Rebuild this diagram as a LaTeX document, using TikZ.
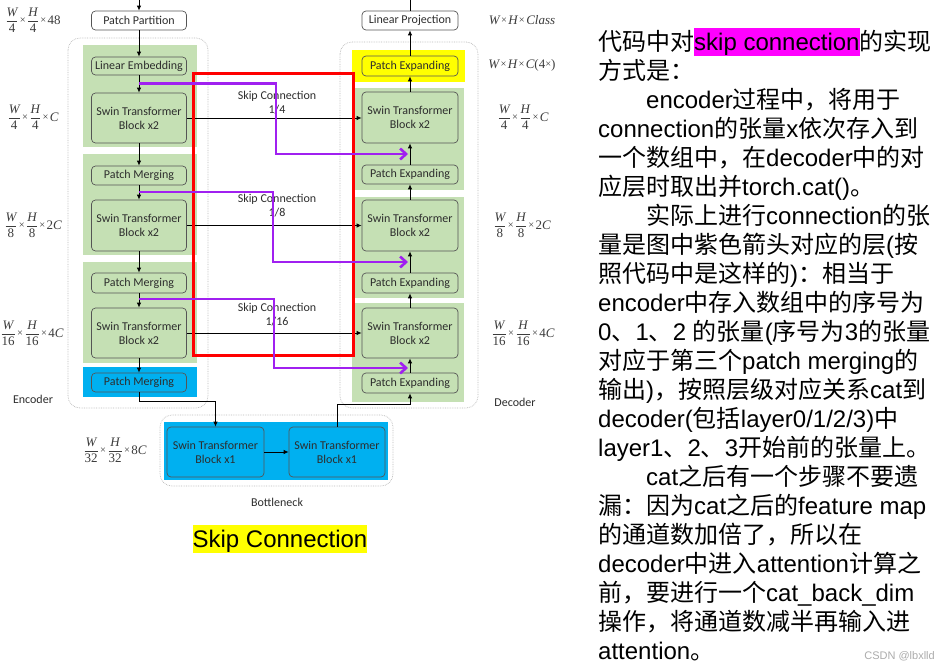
\documentclass[tikz,border=0pt]{standalone}
\usepackage{amsmath}
\usepackage{fontspec}
\setmainfont{Liberation Sans}
\newfontfamily\zhfont{Noto Sans CJK SC}
\newfontfamily\calfont{Carlito}
\newfontfamily\tnr{Liberation Serif}
\usetikzlibrary{arrows.meta}
\definecolor{pgreen}{RGB}{197,224,180}
\definecolor{pblue}{RGB}{0,176,240}
\definecolor{pyellow}{RGB}{255,255,0}
\definecolor{ppurple}{RGB}{160,32,240}
\definecolor{pmag}{RGB}{255,0,255}
\definecolor{pred}{RGB}{255,0,0}
\definecolor{bordergray}{RGB}{85,85,85}
\definecolor{txtgray}{RGB}{45,45,45}
\definecolor{mathgray}{RGB}{60,60,60}
\newcommand\zh[1]{{\zhfont #1}}
\newcommand\hlt[2]{{\setlength\fboxsep{0pt}\colorbox{#1}{\rule[-0.23em]{0pt}{1.16em}#2}}}
\newcommand\fr[2]{\dfrac{\mbox{\tnr\itshape #1}}{\mbox{\tnr #2}}}
\newcommand\vi[1]{\mbox{\tnr\itshape #1}}
\newcommand\vn[1]{\mbox{\tnr #1}}
\newcommand\smx{\mbox{\raisebox{0.6pt}{\tnr\fontsize{10.5}{10.5}\selectfont ×}}}
\newcommand\tm{\mskip2mu\smx\mskip2mu}
\begin{document}
\begin{tikzpicture}[x=1pt,y=-1pt,
  blk/.style={rounded corners=4pt, draw=bordergray, line width=0.7pt,
    minimum width=95pt, inner sep=0pt, align=center,
    font=\calfont\fontsize{12}{14}\selectfont, text=txtgray},
  dbox/.style={draw=gray!55, densely dotted, line width=0.7pt, rounded corners=12pt},
  arr/.style={-{Latex[length=5pt,width=4.5pt]}, line width=0.9pt, black},
  plain/.style={line width=0.9pt, black},
  parr/.style={ppurple, line width=2.6pt, -{Straight Barb[length=6pt,width=11pt]}},
  dimlab/.style={font=\fontsize{13}{15}\selectfont, text=mathgray, inner sep=0pt},
  seclab/.style={font=\calfont\fontsize{12}{14}\selectfont, text=txtgray, inner sep=0pt},
  sklab/.style={font=\calfont\fontsize{12}{14}\selectfont, text=txtgray, inner sep=0pt, align=center},
  rt/.style={anchor=base west, inner sep=0pt, font=\fontsize{24}{29}\selectfont, text=black}]
\useasboundingbox (0,0) rectangle (950,670);
\fill[white] (0,0) rectangle (950,670);

% panels
\fill[pgreen] (83,45) rectangle (197,147);
\fill[pgreen] (83,154) rectangle (197,255);
\fill[pgreen] (83,262) rectangle (197,363);
\fill[pblue] (83,367) rectangle (197,397);
\fill[pyellow] (352,50) rectangle (465,82);
\fill[pgreen] (352,88) rectangle (464,190);
\fill[pgreen] (352,197) rectangle (464,298);
\fill[pgreen] (352,303) rectangle (464,402);
\fill[pblue] (164,422) rectangle (388,480);

% dashed group boxes
\draw[dbox] (68,38) rectangle (208,408);
\draw[dbox] (340,42) rectangle (478,408);
\draw[dbox] (160,415) rectangle (393,486);

% encoder nodes
\node[blk, fill=white, minimum height=19pt] (pp) at (139,20.5) {Patch Partition};
\node[blk, fill=pgreen, minimum height=18pt] (le) at (139,66) {Linear Embedding};
\node[blk, fill=pgreen, minimum height=50pt] (e1) at (139,118) {Swin Transformer\\Block x2};
\node[blk, fill=pgreen, minimum height=19pt] (pm1) at (139,175.5) {Patch Merging};
\node[blk, fill=pgreen, minimum height=51pt] (e2) at (139,225.5) {Swin Transformer\\Block x2};
\node[blk, fill=pgreen, minimum height=20pt] (pm2) at (139,283) {Patch Merging};
\node[blk, fill=pgreen, minimum height=50pt] (e3) at (139,333) {Swin Transformer\\Block x2};
\node[blk, fill=pblue, minimum height=19pt] (pm3) at (139,382.5) {Patch Merging};

% decoder nodes
\node[blk, fill=white, minimum height=19pt, minimum width=96pt] (lp) at (410,20.5) {Linear Projection};
\node[blk, fill=pyellow, minimum height=20pt, minimum width=96pt] (pe0) at (410,66) {Patch Expanding};
\node[blk, fill=pgreen, minimum height=51pt, minimum width=96pt] (d1) at (410,117.5) {Swin Transformer\\Block x2};
\node[blk, fill=pgreen, minimum height=19pt, minimum width=96pt] (pe1) at (410,174.5) {Patch Expanding};
\node[blk, fill=pgreen, minimum height=51pt, minimum width=96pt] (d2) at (410,225.5) {Swin Transformer\\Block x2};
\node[blk, fill=pgreen, minimum height=20pt, minimum width=96pt] (pe2) at (410,283) {Patch Expanding};
\node[blk, fill=pgreen, minimum height=50pt, minimum width=96pt] (d3) at (410,333) {Swin Transformer\\Block x2};
\node[blk, fill=pgreen, minimum height=20pt, minimum width=96pt] (pe3) at (410,383) {Patch Expanding};

% bottleneck nodes
\node[blk, fill=pblue, minimum height=50pt, minimum width=97pt] (b1) at (215.5,452) {Swin Transformer\\Block x1};
\node[blk, fill=pblue, minimum height=50pt, minimum width=96pt] (b2) at (337,452) {Swin Transformer\\Block x1};

% encoder arrows
\coordinate (top1) at (139,0);
\coordinate (top2) at (410,0);
\draw[arr] (top1) -- (pp.north);
\draw[arr] (pp.south) -- (le.north);
\draw[arr] (le.south) -- (e1.north);
\draw[arr] (e1.south) -- (pm1.north);
\draw[arr] (pm1.south) -- (e2.north);
\draw[arr] (e2.south) -- (pm2.north);
\draw[arr] (pm2.south) -- (e3.north);
\draw[arr] (e3.south) -- (pm3.north);
\draw[arr] (pm3.south) -- ++(0,9) -| (b1.north);
\draw[arr] (b1.east) -- (b2.west);
\draw[arr] (b2.north) -- ++(0,-22) -| (pe3.south);
% decoder arrows
\draw[arr] (pe3.north) -- (d3.south);
\draw[arr] (d3.north) -- (pe2.south);
\draw[arr] (pe2.north) -- (d2.south);
\draw[arr] (d2.north) -- (pe1.south);
\draw[arr] (pe1.north) -- (d1.south);
\draw[arr] (d1.north) -- (pe0.south);
\draw[arr] (pe0.north) -- (lp.south);
\draw[plain] (lp.north) -- (top2);

% skip connections
\draw[arr] (e1.east) -- (e1.east -| d1.west);
\draw[arr] (e2.east) -- (e2.east -| d2.west);
\draw[arr] (e3.east) -- (e3.east -| d3.west);
\node[sklab] (s1) at (277,103) {Skip Connection\\1/4};
\node[sklab] (s2) at (277,206) {Skip Connection\\1/8};
\node[sklab] (s3) at (277,314.5) {Skip Connection\\1/16};

% section labels
\node[seclab] (encl) at (33,399) {Encoder};
\node[seclab] (decl) at (515,402) {Decoder};
\node[seclab] (botl) at (277,502) {Bottleneck};

% dimension labels
\node[dimlab] (dl1) at (33,20) {$\fr{W}{4}\tm\fr{H}{4}\tm\vn{48}$};
\node[dimlab] (dl2) at (33,117) {$\fr{W}{4}\tm\fr{H}{4}\tm\vi{C}$};
\node[dimlab] (dl3) at (33,225) {$\fr{W}{8}\tm\fr{H}{8}\tm\vn{2}\vi{C}$};
\node[dimlab] (dl4) at (32,333) {$\fr{W}{16}\tm\fr{H}{16}\tm\vn{4}\vi{C}$};
\node[dimlab] (dl5) at (115,450) {$\fr{W}{32}\tm\fr{H}{32}\tm\vn{8}\vi{C}$};
\node[dimlab] (dr1) at (522,20) {$\vi{W}\tm\vi{H}\tm\vi{Class}$};
\node[dimlab] (dr2) at (522,65) {$\vi{W}\tm\vi{H}\tm\vi{C}\vn{(4}\smx\vn{)}$};
\node[dimlab] (dr3) at (523,117) {$\fr{W}{4}\tm\fr{H}{4}\tm\vi{C}$};
\node[dimlab] (dr4) at (522,225) {$\fr{W}{8}\tm\fr{H}{8}\tm\vn{2}\vi{C}$};
\node[dimlab] (dr5) at (523,333) {$\fr{W}{16}\tm\fr{H}{16}\tm\vn{4}\vi{C}$};

% red frame
\draw[pred, line width=3pt] (193,73) rectangle (353,355);

% purple arrows
\coordinate (ps1) at (139,83.5);
\coordinate (pt1) at (408,154);
\coordinate (ps2) at (139,192);
\coordinate (pt2) at (408,262);
\coordinate (ps3) at (139,299);
\coordinate (pt3) at (408,368);
\draw[parr] (ps1) -- ++(137,0) |- (pt1);
\draw[parr] (ps2) -- ++(134,0) |- (pt2);
\draw[parr] (ps3) -- ++(135,0) |- (pt3);

% bottom caption
\node[inner sep=0pt, font=\fontsize{24}{29}\selectfont] (cap) at (280,539) {\hlt{pyellow}{Skip Connection}};

% right text
\node[rt] (r1) at (598,50) {\zh{代码中对}\hlt{pmag}{skip connection}\zh{的实现}};
\node[rt] (r2) at (598,79) {\zh{方式是：}};
\node[rt] (r3) at (646,108) {encoder\zh{过程中，将用于}};
\node[rt] (r4) at (598,137) {connection\zh{的张量}x\zh{依次存入到}};
\node[rt] (r5) at (598,166) {\zh{一个数组中，在}decoder\zh{中的对}};
\node[rt] (r6) at (598,195) {\zh{应层时取出并}torch.cat()\zh{。}};
\node[rt] (r7) at (646,224) {\zh{实际上进行}connection\zh{的张}};
\node[rt] (r8) at (598,253) {\zh{量是图中紫色箭头对应的层}(\zh{按}};
\node[rt] (r9) at (598,282) {\zh{照代码中是这样的})\zh{：相当于}};
\node[rt] (r10) at (598,311) {encoder\zh{中存入数组中的序号为}};
\node[rt] (r11) at (598,340) {0\zh{、}1\zh{、}2 \zh{的张量}(\zh{序号为}3\zh{的张量}};
\node[rt] (r12) at (598,369) {\zh{对应于第三个}patch merging\zh{的}};
\node[rt] (r13) at (598,398) {\zh{输出})\zh{，按照层级对应关系}cat\zh{到}};
\node[rt] (r14) at (598,427) {decoder(\zh{包括}layer0/1/2/3)\zh{中}};
\node[rt] (r15) at (598,456) {layer1\zh{、}2\zh{、}3\zh{开始前的张量上。}};
\node[rt] (r16) at (646,485) {cat\zh{之后有一个步骤不要遗}};
\node[rt] (r17) at (598,514) {\zh{漏：因为}cat\zh{之后的}feature map};
\node[rt] (r18) at (598,543) {\zh{的通道数加倍了，所以在}};
\node[rt] (r19) at (598,572) {decoder\zh{中进入}attention\zh{计算之}};
\node[rt] (r20) at (598,601) {\zh{前，要进行一个}cat\_back\_dim};
\node[rt] (r21) at (598,630) {\zh{操作，将通道数减半再输入进}};
\node[rt] (r22) at (598,659) {attention\zh{。}};

\node[anchor=east, inner sep=0pt, text=gray!65, font=\fontsize{11}{13}\selectfont] (wm) at (935,656) {CSDN @lbxlld};
\end{tikzpicture}
\end{document}
